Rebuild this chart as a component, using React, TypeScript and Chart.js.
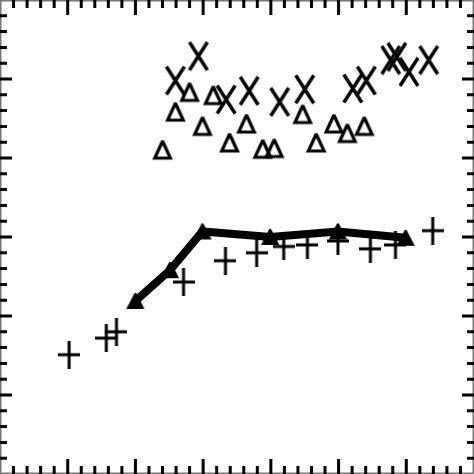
import React, { useEffect, useRef } from 'react';
import { Chart, registerables } from 'chart.js';

Chart.register(...registerables);

// "x" symbols (upper cloud)
const crossX = [2.59, 2.93, 3.34, 3.68, 4.13, 4.5, 5.21, 5.41, 5.77, 5.86, 6.04, 6.33];
const crossY = [4.98, 5.29, 4.74, 4.85, 4.71, 4.87, 4.88, 4.98, 5.24, 5.28, 5.09, 5.24];

// open triangles
const triX = [2.4, 2.59, 2.8, 2.99, 3.15, 3.39, 3.64, 3.88, 4.05, 4.47, 4.67, 4.93, 5.13, 5.38];
const triY = [4.1, 4.58, 4.83, 4.4, 4.79, 4.19, 4.43, 4.11, 4.12, 4.55, 4.19, 4.43, 4.31, 4.4];

// plus symbols
const plusX = [1.02, 1.57, 1.72, 2.71, 3.33, 3.79, 4.19, 4.54, 4.99, 5.47, 5.84, 6.39];
const plusY = [1.51, 1.72, 1.8, 2.43, 2.7, 2.8, 2.88, 2.9, 2.95, 2.85, 2.9, 3.08];

// thick line with filled triangles
const lineX = [2.0, 2.51, 2.99, 3.99, 4.99, 5.99];
const lineY = [2.19, 2.58, 3.07, 3.0, 3.07, 2.99];

const xMin = 0;
const xMax = 7;
const yMin = 0;
const yMax = 6;
const minorStep = 0.2;

const toPoints = (xs: number[], ys: number[]) => xs.map((x, i) => ({ x, y: ys[i] }));

// tall "X" glyph used as point style
function makeCross(): HTMLCanvasElement {
  const c = document.createElement('canvas');
  c.width = 22;
  c.height = 31;
  const g = c.getContext('2d')!;
  g.strokeStyle = '#000';
  g.lineWidth = 3.5;
  g.beginPath();
  g.moveTo(2, 1.5);
  g.lineTo(20, 29.5);
  g.moveTo(20, 1.5);
  g.lineTo(2, 29.5);
  g.stroke();
  return c;
}

// tall "+" glyph
function makePlus(): HTMLCanvasElement {
  const c = document.createElement('canvas');
  c.width = 22;
  c.height = 28;
  const g = c.getContext('2d')!;
  g.strokeStyle = '#000';
  g.lineWidth = 3;
  g.beginPath();
  g.moveTo(0, 14);
  g.lineTo(22, 14);
  g.moveTo(11, 0);
  g.lineTo(11, 28);
  g.stroke();
  return c;
}

// triangle glyph on a padded canvas, open or filled
function makeTriangle(size: number, halfW: number, topY: number, baseY: number, lw: number, filled: boolean): HTMLCanvasElement {
  const c = document.createElement('canvas');
  c.width = size;
  c.height = size;
  const g = c.getContext('2d')!;
  const cx = size / 2;
  g.strokeStyle = '#000';
  g.fillStyle = '#000';
  g.lineWidth = lw;
  g.lineJoin = 'miter';
  g.miterLimit = 2;
  g.beginPath();
  g.moveTo(cx, topY);
  g.lineTo(cx + halfW, baseY);
  g.lineTo(cx - halfW, baseY);
  g.closePath();
  if (filled) g.fill();
  g.stroke();
  return c;
}

// frame + inward ticks on all four sides
const framePlugin = {
  id: 'frameTicks',
  afterDraw(chart: any) {
    const { ctx, chartArea } = chart;
    const { left, right, top, bottom } = chartArea;
    const xs = chart.scales.x;
    const ys = chart.scales.y;
    ctx.save();
    ctx.strokeStyle = '#777';
    ctx.lineWidth = 1.5;
    ctx.strokeRect(left + 0.75, top + 0.75, right - left - 1.5, bottom - top - 1.5);
    ctx.strokeStyle = '#000';
    ctx.lineWidth = 3;
    ctx.beginPath();
    const nx = Math.round((xMax - xMin) / minorStep);
    for (let i = 1; i < nx; i++) {
      const v = xMin + i * minorStep;
      const major = i % 5 === 0;
      const len = major ? 15 : 8;
      const px = xs.getPixelForValue(v);
      ctx.moveTo(px, top);
      ctx.lineTo(px, top + len);
      ctx.moveTo(px, bottom);
      ctx.lineTo(px, bottom - len);
    }
    const ny = Math.round((yMax - yMin) / minorStep);
    for (let i = 1; i < ny; i++) {
      const v = yMin + i * minorStep;
      const major = i % 5 === 0;
      const len = major ? 12 : 7;
      const py = ys.getPixelForValue(v);
      ctx.moveTo(left, py);
      ctx.lineTo(left + len, py);
      ctx.moveTo(right, py);
      ctx.lineTo(right - len, py);
    }
    ctx.stroke();
    ctx.restore();
  },
};

export default function App() {
  const canvasRef = useRef<HTMLCanvasElement>(null);
  const chartRef = useRef<Chart | null>(null);

  useEffect(() => {
    if (!canvasRef.current) return;
    if (chartRef.current) chartRef.current.destroy();
    const ctx = canvasRef.current.getContext('2d');
    if (!ctx) return;

    const crossImg = makeCross();
    const plusImg = makePlus();
    const openTri = makeTriangle(26, 7.8, 4, 21, 3.2, false);
    const solidTri = makeTriangle(24, 7.5, 4.5, 19, 2, true);

    chartRef.current = new Chart(ctx, {
      type: 'scatter',
      data: {
        datasets: [
          {
            label: 'line',
            data: toPoints(lineX, lineY),
            showLine: true,
            borderColor: '#000',
            borderWidth: 8,
            borderJoinStyle: 'miter',
            pointStyle: solidTri,
            pointRadius: 9,
          },
          {
            label: 'plus',
            data: toPoints(plusX, plusY),
            pointStyle: plusImg,
            pointRadius: 11,
          },
          {
            label: 'triangles',
            data: toPoints(triX, triY),
            pointStyle: openTri,
            pointRadius: 10,
          },
          {
            label: 'cross',
            data: toPoints(crossX, crossY),
            pointStyle: crossImg,
            pointRadius: 12,
          },
        ],
      },
      options: {
        responsive: false,
        animation: false,
        maintainAspectRatio: false,
        layout: { padding: 0, autoPadding: false },
        plugins: {
          legend: { display: false },
          tooltip: { enabled: false },
        },
        scales: {
          x: { type: 'linear', min: xMin, max: xMax, display: false },
          y: { type: 'linear', min: yMin, max: yMax, display: false },
        },
        elements: { point: { hoverRadius: 0 } },
        clip: false,
      } as any,
      plugins: [framePlugin],
    });

    return () => {
      if (chartRef.current) {
        chartRef.current.destroy();
        chartRef.current = null;
      }
    };
  }, []);

  return (
    <div style={{ position: 'fixed', left: 0, top: 0, width: 474, height: 474, background: '#fff' }}>
      <canvas ref={canvasRef} width={474} height={474} style={{ width: 474, height: 474 }}></canvas>
    </div>
  );
}
